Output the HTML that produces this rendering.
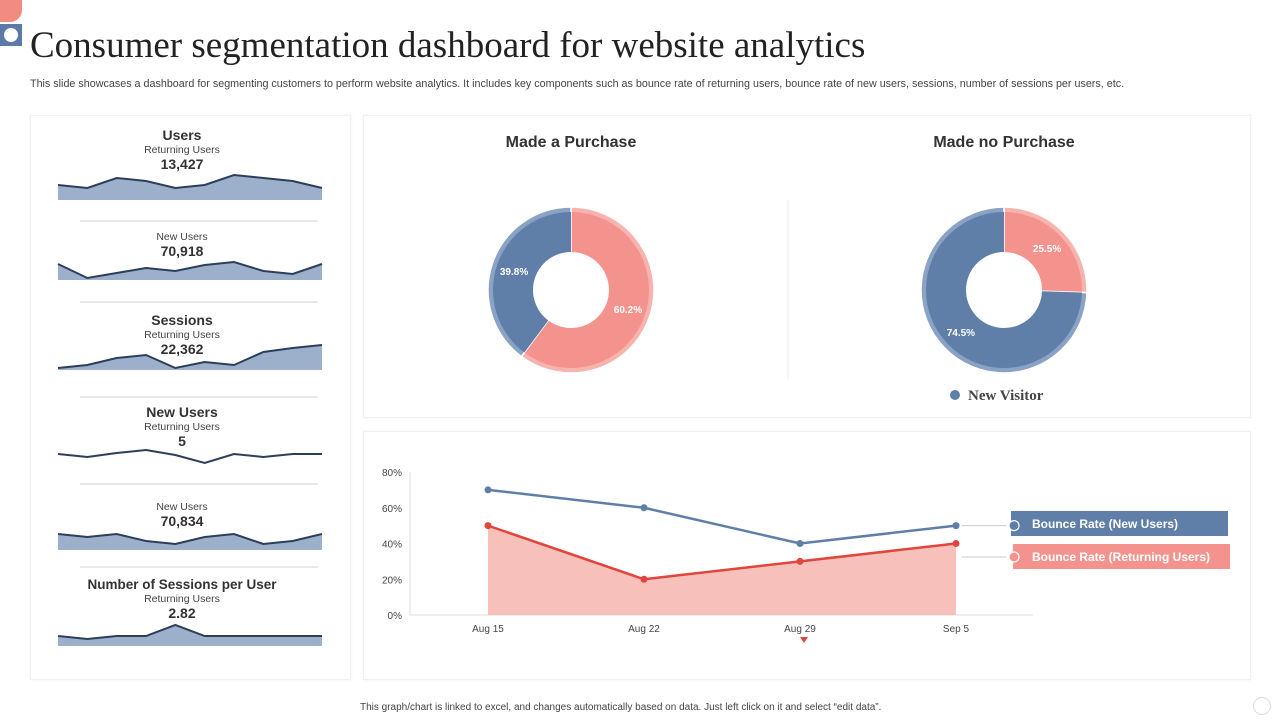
<!DOCTYPE html>
<html><head><meta charset="utf-8">
<style>
body{margin:0;width:1280px;height:720px;background:#fff;font-family:"Liberation Sans",sans-serif;position:relative;overflow:hidden}
.abs{position:absolute}
.card{position:absolute;border:1px solid #f0f0f0;box-shadow:0 0 3px rgba(0,0,0,0.06);background:#fff}
</style></head><body>
<div class="abs" style="left:0;top:0;width:22px;height:22px;background:#f28b82;border-radius:0 0 12px 0"></div>
<div class="abs" style="left:0;top:24px;width:22px;height:22px;background:#5b7aa7"><div style="margin:4px;width:14px;height:14px;border-radius:50%;background:#fff"></div></div>
<div class="abs" style="left:30px;top:24px;font-family:'Liberation Serif',serif;font-size:37px;color:#222">Consumer segmentation dashboard for website analytics</div>
<div class="abs" style="left:30px;top:78px;font-size:10.75px;color:#444">This slide showcases a dashboard for segmenting customers to perform website analytics. It includes key components such as bounce rate of returning users, bounce rate of new users, sessions, number of sessions per users, etc.</div>
<div class="card" style="left:30px;top:115px;width:319px;height:563px"></div>
<div class="card" style="left:363px;top:115px;width:886px;height:301px"></div>
<div class="card" style="left:363px;top:431px;width:886px;height:247px"></div>
<svg class="abs" style="left:0;top:0" width="1280" height="720" id="svg">
<line x1="788" y1="200" x2="788" y2="380" stroke="#eee"/>
</svg>
<div class="abs" style="left:360px;top:702px;font-size:10px;color:#444">This graph/chart is linked to excel, and changes automatically based on data. Just left click on it and select “edit data”.</div>
<div class="abs" style="left:1253px;top:697px;width:16px;height:16px;border:1px solid #ddd;border-radius:50%"></div>
<script>
// Sparkline data
const spark1=[15,12,22,19,12,15,25,22,19,12];
const spark2=[16,2,7,12,9,15,18,9,6,16];
const spark3=[2,5,12,15,2,8,5,18,22,25];
const spark4=[10,7,11,14,9,1,10,7,10,10];
const spark5=[16,13,16,9,6,13,16,6,9,16];
const spark6=[10,7,10,10,21,10,10,10,10,10];
// Donut data
const purchaseVals=[60.2,39.8];
const noPurchaseVals=[25.5,74.5];
// Line chart data
const dates=["Aug 15","Aug 22","Aug 29","Sep 5"];
const newUsers=[70,60,40,50];
const returningUsers=[50,20,30,40];
const yTicks=[0,20,40,60,80];

const svg=document.getElementById('svg');
const NS='http://www.w3.org/2000/svg';
function mk(tag,attrs,parent){const e=document.createElementNS(NS,tag);for(const k in attrs)e.setAttribute(k,attrs[k]);(parent||svg).appendChild(e);return e;}
function txt(x,y,s,size,weight,color,anchor,name){const t=mk('text',{x:x,y:y,'font-size':size,'font-weight':weight,fill:color,'text-anchor':anchor||'middle','font-family':'Liberation Sans, sans-serif'});t.textContent=s;


return t;}

// KPI panel
const kpis=[
 {h:"Users",s:"Returning Users",v:"13,427",top:127,data:spark1,base:200,fill:true},
 {h:null,s:"New Users",v:"70,918",top:228,data:spark2,base:280,fill:true},
 {h:"Sessions",s:"Returning Users",v:"22,362",top:312,data:spark3,base:370,fill:true},
 {h:"New Users",s:"Returning Users",v:"5",top:404,data:spark4,base:464,fill:false},
 {h:null,s:"New Users",v:"70,834",top:498,data:spark5,base:550,fill:true},
 {h:"Number of Sessions  per User",s:"Returning Users",v:"2.82",top:576,data:spark6,base:646,fill:true}
];
kpis.forEach((k,i)=>{
 let y=k.top;
 if(k.h){txt(182,y+13,k.h,i==5?13.5:14,'bold','#333','middle','kpi-heading-'+i);y+=14;}
 txt(182,y+12,k.s,10.5,'normal','#444','middle','kpi-label-'+i);
 txt(182,y+28,k.v,14,'bold','#333','middle','kpi-value-'+i);
 const x0=58,x1=322,n=k.data.length;
 const pts=k.data.map((v,j)=>[x0+(x1-x0)*j/(n-1),k.base-v]);
 if(k.fill){const a=mk('path',{d:'M'+x0+','+k.base+' L'+pts.map(p=>p.join(',')).join(' L')+' L'+x1+','+k.base+'Z',fill:'#9cb0cc'});
 
 }
 const l=mk('polyline',{points:pts.map(p=>p.join(',')).join(' '),fill:'none',stroke:'#2c3e5a','stroke-width':2});
 
 
 if(i<5){const yy=[221,302,397,484,567][i];const sep=mk('line',{x1:80,x2:318,y1:yy,y2:yy,stroke:'#999','stroke-width':0.8,opacity:0.6});
 
 }
});

// Donuts
function arc(cx,cy,r0,r1,a0,a1){const p=(r,a)=>[cx+r*Math.sin(a),cy-r*Math.cos(a)];const lg=(a1-a0)>Math.PI?1:0;
 const A=p(r1,a0),B=p(r1,a1),C=p(r0,a1),D=p(r0,a0);
 return `M${A} A${r1},${r1} 0 ${lg} 1 ${B} L${C} A${r0},${r0} 0 ${lg} 0 ${D}Z`;}
function donut(cx,cy,vals,title,name,labelPos){
 txt(cx,cy-143,title,16,'bold','#333','middle',name+'-title');
 let a=0;const cols=['#f4938e','#5f7fa9'];const ring=['#f7b3ae','#8aa2c4'];
 vals.forEach((v,i)=>{const b=a+v/100*2*Math.PI;
  const s=mk('path',{d:arc(cx,cy,38,83,a,b),fill:ring[i],stroke:'#fff','stroke-width':1.5});
  
  
  mk('path',{d:arc(cx,cy,38,78,a,b),fill:cols[i]});
  const m=(a+b)/2;txt(cx+labelPos*Math.sin(m),cy-labelPos*Math.cos(m)+4,v.toFixed(1)+'%',10,'bold','#fff','middle',name+'-label-'+i);
  a=b;});
}
donut(571,290,purchaseVals,'Made a Purchase','purchase-donut',60);
donut(1004,290,noPurchaseVals,'Made no Purchase','no-purchase-donut',60);
const ld=mk('circle',{cx:955,cy:395,r:5,fill:'#5f7fa9'});


const lt=txt(968,400,'New Visitor',15,'bold','#444','start','legend-new-visitor');lt.setAttribute('font-family','Liberation Serif, serif');

// Line chart
const X0=410,X1=1033,Y0=615,Y80=472;
const xS=i=>488+i*156;
const yS=v=>Y0-(v/80)*(Y0-Y80);
yTicks.forEach(t=>{txt(402,yS(t)+4,t+'%',10,'normal','#444','end','y-tick-'+t);});
dates.forEach((d,i)=>{txt(xS(i),632,d,10,'normal','#444','middle','x-tick-'+i);});
const ax=mk('line',{x1:X0,x2:X1,y1:Y0,y2:Y0,stroke:'#ddd'});
const ay=mk('line',{x1:X0,x2:X0,y1:Y80,y2:Y0,stroke:'#ddd'});
const area=mk('path',{d:'M'+xS(0)+','+Y0+' '+returningUsers.map((v,i)=>'L'+xS(i)+','+yS(v)).join(' ')+' L'+xS(dates.length-1)+','+Y0+'Z',fill:'#f8c0bb'});


[[newUsers,'#5f7fa9','new-users'],[returningUsers,'#e0463c','returning-users']].forEach(([d,c,n])=>{
 const pl=mk('polyline',{points:d.map((v,i)=>xS(i)+','+yS(v)).join(' '),fill:'none',stroke:c,'stroke-width':2.5});
 
 
 d.forEach((v,i)=>{const p=mk('circle',{cx:xS(i),cy:yS(v),r:3.5,fill:c});
 
 });
});
const tri=mk('path',{d:'M800,637 L808,637 L804,643Z',fill:'#e0463c'});
// Legend boxes
[[511,'#5f7fa9','Bounce Rate (New Users)','legend-new-users',yS(newUsers[3])],[544,'#f4938e','Bounce Rate (Returning Users)','legend-returning-users',557]].forEach(([y,c,s,n,ly])=>{
 const r=mk('rect',{x:y==511?1011:1013,y:y,width:217,height:25,fill:c});
 
 
 mk('line',{x1:962,x2:1006,y1:ly,y2:ly,stroke:'#ccc'});
 mk('circle',{cx:1014,cy:ly,r:5,fill:c,stroke:'#fff','stroke-width':1.2});
 txt(1032,y+17,s,12,'bold','#fff','start',n);
});
</script>
</body></html>
